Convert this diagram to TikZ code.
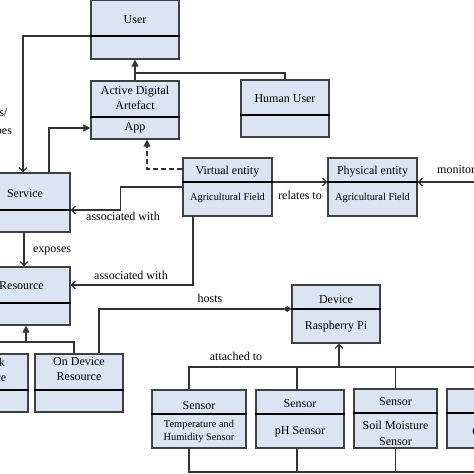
\documentclass[tikz,border=0pt]{standalone}
\usepackage{fontspec}
\setmainfont{Liberation Serif}
\usetikzlibrary{arrows.meta,calc}

\definecolor{clsfill}{RGB}{219,228,243}
\definecolor{clsline}{RGB}{64,64,64}

\tikzset{
  clsbox/.style={draw=clsline, fill=clsfill, line width=1.2pt, minimum width=88pt, minimum height=58pt, inner sep=0pt},
  divline/.style={black, line width=1.6pt},
  ttl/.style={font=\fontsize{12}{15}\selectfont, inner sep=0pt, align=center},
  att/.style={font=\fontsize{10.4}{13}\selectfont, inner sep=0pt, align=center},
  lbl/.style={font=\fontsize{12}{18}\selectfont, inner sep=0pt, align=center},
  conn/.style={draw=black!80, line width=1.2pt},
  gen/.style={-{Triangle[width=7pt,length=7pt]}},
  assoc/.style={-{Straight Barb[width=8pt,length=4pt]}}
}

\begin{document}
\begin{tikzpicture}[x=1pt, y=-1pt]
  \useasboundingbox (0,0) rectangle (474,474);
  \clip (0,0) rectangle (474,474);

  % classes
  \node[clsbox, minimum height=58.5pt] (user) at (135,29.75) {};
  \node[clsbox] (ada) at (135,110) {};
  \node[clsbox, minimum height=57pt] (human) at (285,108.5) {};
  \node[clsbox, minimum height=59pt] (service) at (26,202.5) {};
  \node[clsbox, minimum width=89pt] (ve) at (227.5,187) {};
  \node[clsbox, minimum width=89pt] (pe) at (372.5,187) {};
  \node[clsbox] (res) at (26,296) {};
  \node[clsbox] (net) at (-16,383) {};
  \node[clsbox] (odr) at (79,383) {};
  \node[clsbox] (dev) at (336,314) {};
  \node[clsbox, minimum width=94pt] (s1) at (199,419) {};
  \node[clsbox] (s2) at (300,419) {};
  \node[clsbox, minimum width=83pt, minimum height=59pt] (s3) at (395.5,418.5) {};
  \node[clsbox, minimum height=59pt] (s4) at (491,418.5) {};

  % compartments
  \draw[divline] (user.west |- 0,36) -- (user.east |- 0,36);
  \draw[divline] (ada.west |- 0,117) -- (ada.east |- 0,117);
  \draw[divline] (human.west |- 0,115) -- (human.east |- 0,115);
  \draw[divline] (service.west |- 0,210) -- (service.east |- 0,210);
  \draw[divline] (ve.west |- 0,182) -- (ve.east |- 0,182);
  \draw[divline] (pe.west |- 0,182) -- (pe.east |- 0,182);
  \draw[divline] (res.west |- 0,303) -- (res.east |- 0,303);
  \draw[divline] (net.west |- 0,390) -- (net.east |- 0,390);
  \draw[divline] (odr.west |- 0,390) -- (odr.east |- 0,390);
  \draw[divline] (dev.west |- 0,309) -- (dev.east |- 0,309);
  \draw[divline] (s1.west |- 0,414) -- (s1.east |- 0,414);
  \draw[divline] (s2.west |- 0,414) -- (s2.east |- 0,414);
  \draw[divline] (s3.west |- 0,413) -- (s3.east |- 0,413);
  \draw[divline] (s4.west |- 0,413) -- (s4.east |- 0,413);

  % class texts
  \node[ttl] (userT) at (135,20) {User};
  \node[ttl] (adaT) at (135,98) {Active Digital\\Artefact};
  \node[ttl] (adaA) at (135,128) {App};
  \node[ttl] (humanT) at (285,99) {Human User};
  \node[ttl] (serviceT) at (25,194) {Service};
  \node[ttl] (veT) at (227.5,172) {Virtual entity};
  \node[att] (veA) at (227.5,198) {Agricultural Field};
  \node[ttl] (peT) at (372.5,172) {Physical entity};
  \node[att] (peA) at (372.5,198) {Agricultural Field};
  \node[ttl] (resT) at (21.5,286) {Resource};
  \node[ttl] (netT) at (-16,369.5) {Network\\Resource};
  \node[ttl] (odrT) at (79,369.5) {On Device\\Resource};
  \node[ttl] (devT) at (336,300) {Device};
  \node[ttl] (devA) at (336,327) {Raspberry Pi};
  \node[ttl] (s1T) at (199,406) {Sensor};
  \node[att] (s1A) at (199,431.5) {Temperature and\\Humidity Sensor};
  \node[ttl] (s2T) at (300,404) {Sensor};
  \node[ttl] (s2A) at (300,432) {pH Sensor};
  \node[ttl] (s3T) at (395.5,402) {Sensor};
  \node[ttl, font=\fontsize{12}{16}\selectfont] (s3A) at (395.5,433) {Soil Moisture\\Sensor};
  \node[ttl] (s4T) at (496,402) {Sensor};
  \node[ttl] (s4A) at (491,432) {Camera};

  % generalisations
  \coordinate (uj) at (135,73);
  \draw[conn, gen] (ada.north) -- (user.south);
  \draw[conn] (human.north) |- (uj);
  \coordinate (rj) at (26,342);
  \draw[conn, gen] (rj) -- (res.south);
  \draw[conn] (net.north) |- (rj) -| ([xshift=-5pt]odr.north);

  % associations
  \draw[conn, assoc] (user.west |- 0,36) -| ([xshift=-3pt]service.north);
  \draw[conn, gen] ([xshift=23pt]service.north) |- (ada.west |- 0,128);
  \draw[conn, gen, dash pattern=on 5pt off 3pt] (ve.west |- 0,169) -| ([xshift=12pt]ada.south);
  \draw[conn, assoc] (ve.west) -- ++(-62,0) |- (service.east |- 0,210);
  \draw[conn, assoc] (ve.east |- 0,182) -- (pe.west |- 0,182);
  \coordinate (mon) at (480,182);
  \draw[conn, assoc] (mon) -- (pe.east |- 0,182);
  \draw[conn, assoc] ([xshift=-34.5pt]ve.south) |- (res.east |- 0,285);
  \draw[conn, assoc] ([xshift=-2pt]service.south) -- ([xshift=-2pt]res.north);
  \draw[conn, -{Diamond[width=6pt,length=8pt]}] ([xshift=20pt]odr.north) |- (dev.west |- 0,309);

  % sensors bus
  \coordinate (busend) at (480,367);
  \coordinate (botend) at (480,472);
  \draw[conn] ([xshift=-10pt]s1.north) |- (busend);
  \draw[conn] ([xshift=-3pt]s2.north) -- ++(0,-23);
  \draw[conn] (s3.north) -- ++(0,-22);
  \draw[conn, assoc] ([xshift=3pt]dev.south |- busend) -- ([xshift=3pt]dev.south);
  \draw[conn, line width=1.8pt] ([xshift=-10pt]s1.south) |- (botend);
  \draw[conn] ([xshift=-3pt]s2.south) -- ++(0,24);
  \draw[conn] (s3.south) -- ++(0,24);

  % labels
  \node[lbl] (invL) at (-13,121) {invokes/\\subscribes};
  \node[lbl] (asv1) at (123,216) {associated with};
  \node[lbl] (relL) at (300,195) {relates to};
  \node[lbl, anchor=west] (monL) at (437,170) {monitors};
  \node[lbl] (expL) at (52,251) {exposes};
  \node[lbl] (asv2) at (131,275) {associated with};
  \node[lbl] (hostL) at (210,298) {hosts};
  \node[lbl] (attL) at (236,356) {attached to};
\end{tikzpicture}
\end{document}
